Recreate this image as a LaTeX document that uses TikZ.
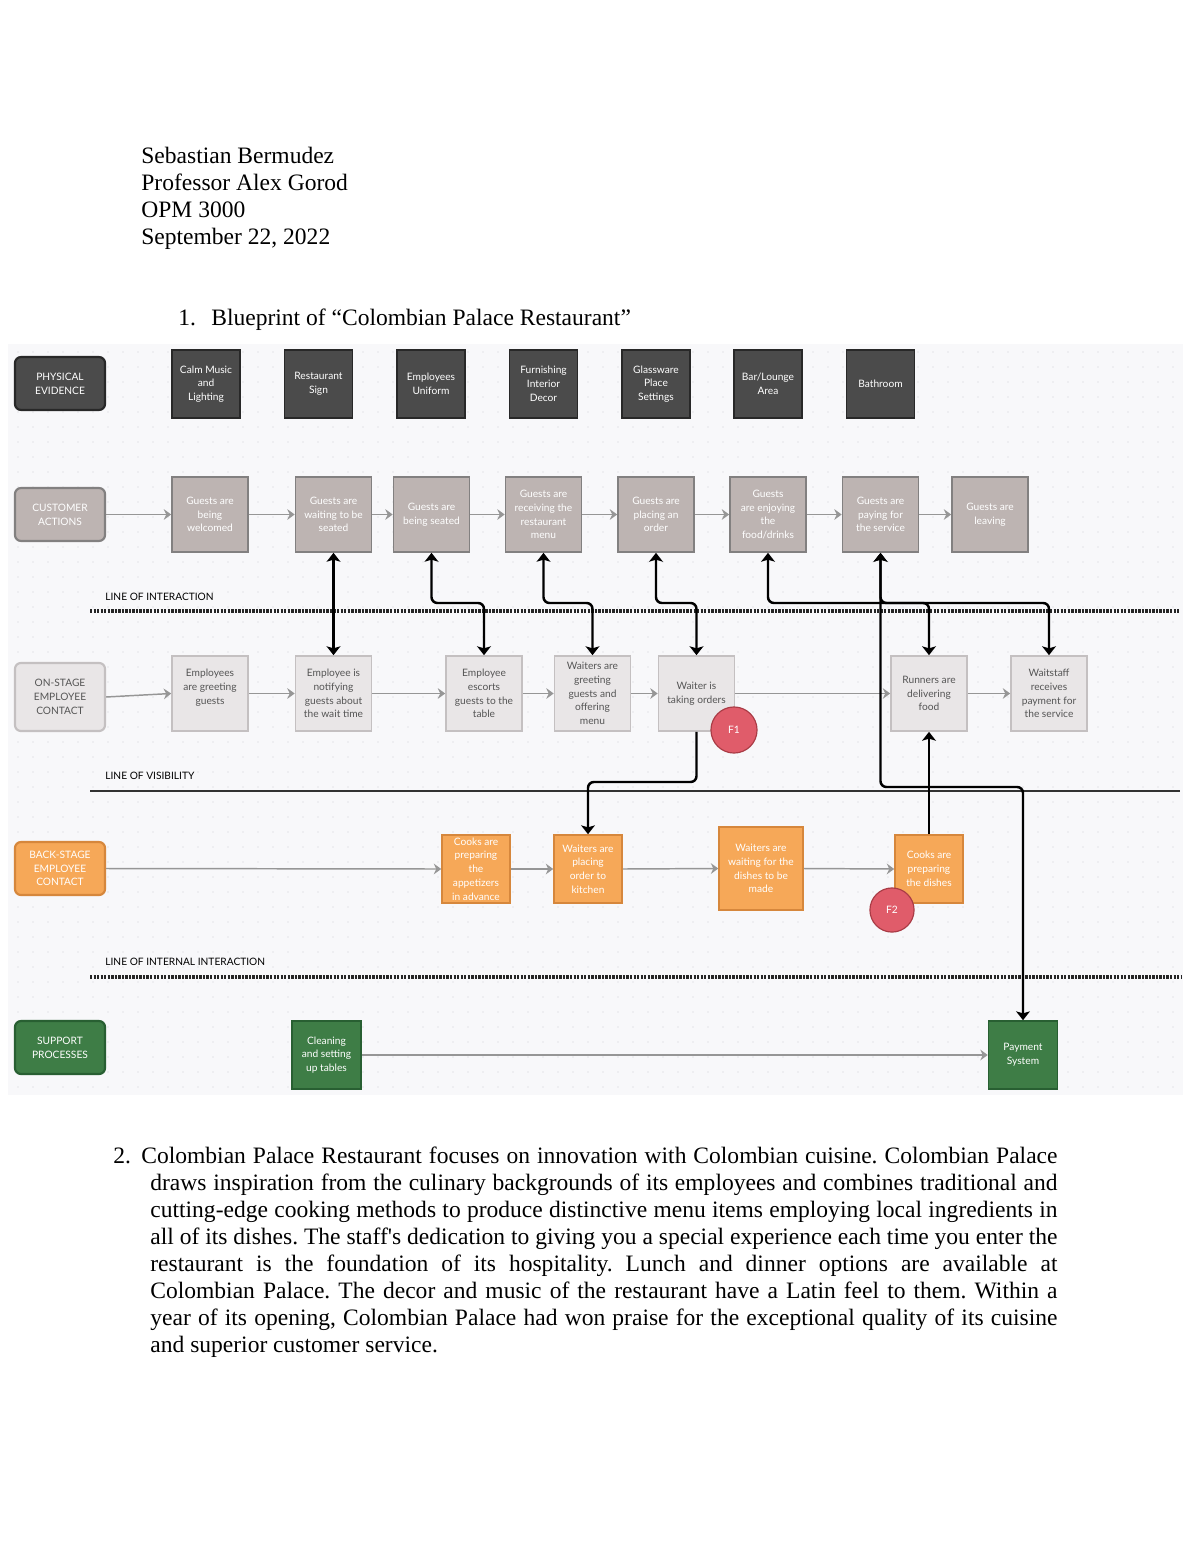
\documentclass[tikz,border=0pt]{standalone}
\usepackage{fontspec}
\setmainfont{Liberation Serif}
\newfontfamily\lato{Lato}
\usetikzlibrary{arrows.meta}
\frenchspacing
\definecolor{bgc}{RGB}{248,248,250}
\definecolor{dotc}{RGB}{208,208,214}
\definecolor{pefill}{RGB}{75,75,75}
\definecolor{peborder}{RGB}{40,40,40}
\definecolor{cafill}{RGB}{189,180,178}
\definecolor{caborder}{RGB}{130,128,128}
\definecolor{osfill}{RGB}{233,230,231}
\definecolor{osborder}{RGB}{196,192,193}
\definecolor{ostext}{RGB}{85,85,85}
\definecolor{bsfill}{RGB}{246,168,88}
\definecolor{bsborder}{RGB}{214,135,60}
\definecolor{spfill}{RGB}{62,125,70}
\definecolor{spborder}{RGB}{40,95,50}
\definecolor{ffill}{RGB}{224,92,106}
\definecolor{fborder}{RGB}{170,60,70}
\definecolor{grayc}{RGB}{150,150,150}
\definecolor{linec}{RGB}{50,50,50}
\tikzset{
  base/.style={draw, line width=0.8pt, align=center, inner sep=0pt,
    font=\lato\fontsize{5.2}{7}\selectfont},
  pebox/.style={base, fill=pefill, draw=peborder, text=white, minimum width=34.7pt, minimum height=34.7pt},
  cabox/.style={base, fill=cafill, draw=caborder, text=white, minimum width=38.8pt, minimum height=38.3pt},
  osbox/.style={base, fill=osfill, draw=osborder, text=ostext, minimum width=38.8pt, minimum height=38.3pt},
  bsbox/.style={base, fill=bsfill, draw=bsborder, text=white, minimum width=34.7pt, minimum height=34.7pt},
  spbox/.style={base, fill=spfill, draw=spborder, text=white, minimum width=35.2pt, minimum height=34.7pt},
  lanelabel/.style={base, rounded corners=3pt, line width=1.1pt, minimum width=45.9pt, minimum height=27pt},
  fcircle/.style={circle, draw=fborder, fill=ffill, line width=0.6pt, text=white, inner sep=0pt,
    minimum size=23.5pt, font=\lato\fontsize{5.2}{7}\selectfont},
  linelabel/.style={anchor=west, inner sep=0pt, text=black, font=\lato\fontsize{5.2}{7}\selectfont},
  gry/.style={draw=grayc, line width=0.75pt, -{Stealth[length=3.8pt,width=5.5pt,inset=1.3pt]}},
  blkline/.style={draw=black, line width=1.25pt, rounded corners=3pt},
  blktwo/.style={blkline, {Stealth[length=4.5pt,width=7pt,inset=1pt]}-{Stealth[length=4.5pt,width=7pt,inset=1pt]}},
  blkone/.style={blkline, -{Stealth[length=4.5pt,width=7pt,inset=1pt]}},
  dashline/.style={draw=black!85, line width=1.6pt, dash pattern=on 1.2pt off 0.6pt},
  bodytext/.style={anchor=base west, inner sep=0pt, font=\fontsize{12}{13.8}\selectfont},
}
\begin{document}
\begin{tikzpicture}[x=0.51pt,y=-0.51pt]
\useasboundingbox[fill=white] (0,0) rectangle (1200,1553);

% header text
\node[bodytext] (h1) at (141,164) {Sebastian Bermudez};
\node[bodytext] (h2) at (141,191) {Professor Alex Gorod};
\node[bodytext] (h3) at (141,218) {OPM 3000};
\node[bodytext] (h4) at (141,245) {September 22, 2022};
\node[bodytext] (t1) at (178,325) {1.};
\node[bodytext] (t2) at (211,325) {Blueprint of “Colombian Palace Restaurant”};

% diagram background with dot grid
\fill[bgc] (8,344) rectangle (1183,1095);
\foreach \yy in {352,367,...,1090}
  \draw[dotc, line width=0.7pt, line cap=round, dash pattern=on 0pt off 7.65pt] (18,\yy) -- (1180,\yy);

% lines
\draw[dashline] (90,611) -- (1180,611);
\draw[linec, line width=1.1pt] (90,791) -- (1180,791);
\draw[dashline] (90,977) -- (1182,977);
\node[linelabel] (l1) at (105,597) {LINE OF INTERACTION};
\node[linelabel] (l2) at (105,776) {LINE OF VISIBILITY};
\node[linelabel] (l3) at (105,962) {LINE OF INTERNAL INTERACTION};

% lane labels
\node[lanelabel, fill=pefill, draw=peborder, text=white] (pel) at (60,383.5) {PHYSICAL\\EVIDENCE};
\node[lanelabel, fill=cafill, draw=caborder, text=white] (cal) at (60,514.5) {CUSTOMER\\ACTIONS};
\node[lanelabel, fill=osfill, draw=osborder, text=ostext, minimum height=34.7pt] (osl) at (60,697) {ON-STAGE\\EMPLOYEE\\CONTACT};
\node[lanelabel, fill=bsfill, draw=bsborder, text=white] (bsl) at (60,868.5) {BACK-STAGE\\EMPLOYEE\\CONTACT};
\node[lanelabel, fill=spfill, draw=spborder, text=white] (spl) at (60,1047.5) {SUPPORT\\PROCESSES};

% physical evidence
\node[pebox] (pe1) at (206,384) {Calm Music\\and\\Lighting};
\node[pebox] (pe2) at (318.5,384) {Restaurant\\Sign};
\node[pebox] (pe3) at (431,384) {Employees\\Uniform};
\node[pebox] (pe4) at (543.5,384) {Furnishing\\Interior\\Decor};
\node[pebox] (pe5) at (656,384) {Glassware\\Place\\Settings};
\node[pebox] (pe6) at (768,384) {Bar/Lounge\\Area};
\node[pebox] (pe7) at (880.5,384) {Bathroom};

% customer actions
\node[cabox] (ca1) at (210,514.5) {Guests are\\being\\welcomed};
\node[cabox] (ca2) at (333.5,514.5) {Guests are\\waiting to be\\seated};
\node[cabox] (ca3) at (431.5,514.5) {Guests are\\being seated};
\node[cabox] (ca4) at (543.5,514.5) {Guests are\\receiving the\\restaurant\\menu};
\node[cabox] (ca5) at (656,514.5) {Guests are\\placing an\\order};
\node[cabox] (ca6) at (768,514.5) {Guests\\are enjoying\\the\\food/drinks};
\node[cabox] (ca7) at (880.5,514.5) {Guests are\\paying for\\the service};
\node[cabox] (ca8) at (990,514.5) {Guests are\\leaving};

% on-stage
\node[osbox] (os1) at (210,693.5) {Employees\\are greeting\\guests\\\mbox{}};
\node[osbox] (os2) at (333.5,693.5) {Employee is\\notifying\\guests about\\the wait time};
\node[osbox] (os3) at (484,693.5) {Employee\\escorts\\guests to the\\table};
\node[osbox] (os4) at (592.5,693.5) {Waiters are\\greeting\\guests and\\offering\\menu};
\node[osbox] (os5) at (696.5,693.5) {Waiter is\\taking orders};
\node[osbox] (os6) at (929,693.5) {Runners are\\delivering\\food};
\node[osbox] (os7) at (1049,693.5) {Waitstaff\\receives\\payment for\\the service};

% back-stage
\node[bsbox] (bs1) at (476,869) {Cooks are\\preparing\\the\\appetizers\\in advance};
\node[bsbox] (bs2) at (588,869) {Waiters are\\placing\\order to\\kitchen};
\node[bsbox, minimum width=42.8pt, minimum height=42.3pt] (bs3) at (761,868.5) {Waiters are\\waiting for the\\dishes to be\\made};
\node[bsbox] (bs4) at (929,869) {Cooks are\\preparing\\the dishes};

% support
\node[spbox] (sp1) at (326.5,1055) {Cleaning\\and setting\\up tables};
\node[spbox] (sp2) at (1023,1055) {Payment\\System};

% grey flow arrows
\draw[gry] (cal.east) -- (ca1.west);
\foreach \a/\b in {ca1/ca2,ca2/ca3,ca3/ca4,ca4/ca5,ca5/ca6,ca6/ca7,ca7/ca8}
  \draw[gry] (\a.east) -- (\b.west);
\draw[gry] (osl.east) -- (os1.west);
\foreach \a/\b in {os1/os2,os2/os3,os3/os4,os4/os5,os5/os6,os6/os7}
  \draw[gry] (\a.east) -- (\b.west);
\draw[gry] (bsl.east) -- (bs1.west);
\foreach \a/\b in {bs1/bs2,bs2/bs3,bs3/bs4}
  \draw[gry] (\a.east) -- (\b.west);
\draw[gry] (sp1.east) -- (sp2.west);

% black interaction connectors
\coordinate (yI) at (0,603);
\coordinate (yV) at (0,782);
\coordinate (yP) at (0,787);
\draw[blktwo] (ca2.south) -- (os2.north);
\draw[blktwo] (ca3.south) -- (ca3.south |- yI) -- (os3.north |- yI) -- (os3.north);
\draw[blktwo] (ca4.south) -- (ca4.south |- yI) -- (os4.north |- yI) -- (os4.north);
\draw[blktwo] (ca5.south) -- (ca5.south |- yI) -- (os5.north |- yI) -- (os5.north);
\draw[blktwo] (ca6.south) -- (ca6.south |- yI) -- (os6.north |- yI) -- (os6.north);
\draw[blktwo] (ca7.south) -- (ca7.south |- yI) -- (os7.north |- yI) -- (os7.north);
\draw[blktwo] (ca7.south) -- (ca7.south |- yP) -- (sp2.north |- yP) -- (sp2.north);
\draw[blkone] (os5.south) -- (os5.south |- yV) -- (bs2.north |- yV) -- (bs2.north);
\draw[blkone] (bs4.north) -- (os6.south);

% fail points
\node[fcircle] (f1) at (734,730) {F1};
\node[fcircle, minimum size=22.5pt] (f2) at (892,910) {F2};

% paragraph 2
\node[bodytext] (n2) at (113,1163) {2.};
\node[bodytext] (p1) at (141,1163) {\makebox[467.2pt][s]{Colombian Palace Restaurant focuses on innovation with Colombian cuisine. Colombian Palace}};
\node[bodytext] (p2) at (150,1190) {\makebox[462.6pt][s]{draws inspiration from the culinary backgrounds of its employees and combines traditional and}};
\node[bodytext] (p3) at (150,1217) {\makebox[462.6pt][s]{cutting-edge cooking methods to produce distinctive menu items employing local ingredients in}};
\node[bodytext] (p4) at (150,1244) {\makebox[462.6pt][s]{all of its dishes. The staff\textquotesingle s dedication to giving you a special experience each time you enter the}};
\node[bodytext] (p5) at (150,1271) {\makebox[462.6pt][s]{restaurant is the foundation of its hospitality. Lunch and dinner options are available at}};
\node[bodytext] (p6) at (150,1298) {\makebox[462.6pt][s]{Colombian Palace. The decor and music of the restaurant have a Latin feel to them. Within a}};
\node[bodytext] (p7) at (150,1325) {\makebox[462.6pt][s]{year of its opening, Colombian Palace had won praise for the exceptional quality of its cuisine}};
\node[bodytext] (p8) at (150,1352) {and superior customer service.};
\end{tikzpicture}
\end{document}
